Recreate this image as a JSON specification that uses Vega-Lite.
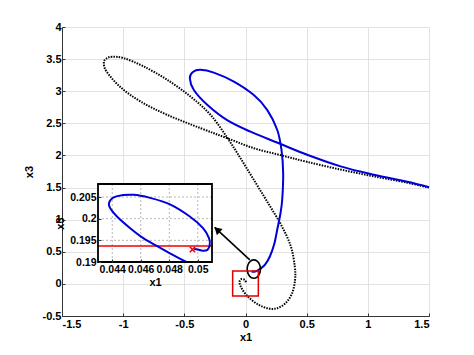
{
  "$schema": "https://vega.github.io/schema/vega-lite/v6.json",
  "width": 367,
  "height": 289,
  "autosize": "none",
  "padding": {"left": 62, "top": 27, "right": 45, "bottom": 39},
  "background": "white",
  "config": {
    "font": "Liberation Sans",
    "view": {"stroke": null},
    "axis": {
      "labelFont": "Liberation Sans", "labelFontWeight": "bold", "labelFontSize": 11, "labelColor": "#000",
      "titleFont": "Liberation Sans", "titleFontWeight": "bold", "titleFontSize": 11, "titleColor": "#000",
      "domainColor": "#333", "tickColor": "#333", "gridColor": "#e2e2e2", "gridOpacity": 1
    }
  },
  "datasets": {
    "blue": [
      {"i": 0, "x": 1.5, "y": 1.506}, {"i": 1, "x": 1.322, "y": 1.59}, {"i": 2, "x": 1.049, "y": 1.7},
      {"i": 3, "x": 0.777, "y": 1.83}, {"i": 4, "x": 0.504, "y": 2.01}, {"i": 5, "x": 0.272, "y": 2.19},
      {"i": 6, "x": 0.041, "y": 2.37}, {"i": 7, "x": -0.15, "y": 2.55}, {"i": 8, "x": -0.313, "y": 2.79},
      {"i": 9, "x": -0.422, "y": 3.02}, {"i": 10, "x": -0.455, "y": 3.2}, {"i": 11, "x": -0.43, "y": 3.3},
      {"i": 12, "x": -0.368, "y": 3.333}, {"i": 13, "x": -0.259, "y": 3.29}, {"i": 14, "x": -0.095, "y": 3.15},
      {"i": 15, "x": 0.068, "y": 2.94}, {"i": 16, "x": 0.177, "y": 2.71}, {"i": 17, "x": 0.259, "y": 2.4},
      {"i": 18, "x": 0.294, "y": 2.09}, {"i": 19, "x": 0.308, "y": 1.72}, {"i": 20, "x": 0.3, "y": 1.31},
      {"i": 21, "x": 0.286, "y": 1.1}, {"i": 22, "x": 0.26, "y": 0.85}, {"i": 23, "x": 0.235, "y": 0.62},
      {"i": 24, "x": 0.2, "y": 0.43}, {"i": 25, "x": 0.16, "y": 0.3}, {"i": 26, "x": 0.12, "y": 0.235},
      {"i": 27, "x": 0.09, "y": 0.2}, {"i": 28, "x": 0.065, "y": 0.19}, {"i": 29, "x": 0.05, "y": 0.193}
    ],
    "black": [
      {"i": 0, "x": 1.5, "y": 1.5}, {"i": 1, "x": 1.322, "y": 1.575}, {"i": 2, "x": 1.049, "y": 1.675},
      {"i": 3, "x": 0.777, "y": 1.78}, {"i": 4, "x": 0.504, "y": 1.9}, {"i": 5, "x": 0.286, "y": 2.005},
      {"i": 6, "x": 0.068, "y": 2.113}, {"i": 7, "x": -0.15, "y": 2.269}, {"i": 8, "x": -0.368, "y": 2.425},
      {"i": 9, "x": -0.64, "y": 2.632}, {"i": 10, "x": -0.858, "y": 2.84}, {"i": 11, "x": -1.022, "y": 3.063},
      {"i": 12, "x": -1.136, "y": 3.307}, {"i": 13, "x": -1.158, "y": 3.448}, {"i": 14, "x": -1.136, "y": 3.51},
      {"i": 15, "x": -1.09, "y": 3.536}, {"i": 16, "x": -0.995, "y": 3.515}, {"i": 17, "x": -0.831, "y": 3.385},
      {"i": 18, "x": -0.64, "y": 3.178}, {"i": 19, "x": -0.45, "y": 2.918}, {"i": 20, "x": -0.286, "y": 2.632},
      {"i": 21, "x": -0.15, "y": 2.279}, {"i": 22, "x": -0.041, "y": 1.957}, {"i": 23, "x": 0.068, "y": 1.62},
      {"i": 24, "x": 0.177, "y": 1.282}, {"i": 25, "x": 0.286, "y": 0.935}, {"i": 26, "x": 0.368, "y": 0.6},
      {"i": 27, "x": 0.403, "y": 0.27}, {"i": 28, "x": 0.405, "y": 0.062}, {"i": 29, "x": 0.381, "y": -0.145},
      {"i": 30, "x": 0.327, "y": -0.301}, {"i": 31, "x": 0.259, "y": -0.379}, {"i": 32, "x": 0.191, "y": -0.384},
      {"i": 33, "x": 0.109, "y": -0.327}, {"i": 34, "x": 0.027, "y": -0.213}, {"i": 35, "x": -0.027, "y": -0.083},
      {"i": 36, "x": -0.049, "y": 0.021}, {"i": 37, "x": -0.035, "y": 0.073}, {"i": 38, "x": -0.005, "y": 0.062},
      {"i": 39, "x": 0.005, "y": 0.01}
    ],
    "ellipse": [
      {"i": 0, "x": 0.122, "y": 0.231}, {"i": 1, "x": 0.1148, "y": 0.3025}, {"i": 2, "x": 0.095, "y": 0.3548},
      {"i": 3, "x": 0.068, "y": 0.374}, {"i": 4, "x": 0.041, "y": 0.3548}, {"i": 5, "x": 0.0212, "y": 0.3025},
      {"i": 6, "x": 0.014, "y": 0.231}, {"i": 7, "x": 0.0212, "y": 0.1595}, {"i": 8, "x": 0.041, "y": 0.1072},
      {"i": 9, "x": 0.068, "y": 0.088}, {"i": 10, "x": 0.095, "y": 0.1072}, {"i": 11, "x": 0.1148, "y": 0.1595}
    ],
    "box": [{"x": -0.105, "x2": 0.105, "y": -0.19, "y2": 0.2}],
    "arrow": [{"x": 0.035, "y": 0.374, "x2": -0.252, "y2": 0.88}],
    "head": [{"x": -0.232, "y": 0.845}],
    "inframe": [{"ix": 0.043, "ix2": 0.051, "iy": 0.19, "iy2": 0.208}],
    "igrid": [
      {"ix": 0.044, "ix2": 0.044, "iy": 0.19, "iy2": 0.208},
      {"ix": 0.046, "ix2": 0.046, "iy": 0.19, "iy2": 0.208},
      {"ix": 0.048, "ix2": 0.048, "iy": 0.19, "iy2": 0.208},
      {"ix": 0.05, "ix2": 0.05, "iy": 0.19, "iy2": 0.208},
      {"ix": 0.043, "ix2": 0.051, "iy": 0.195, "iy2": 0.195},
      {"ix": 0.043, "ix2": 0.051, "iy": 0.2, "iy2": 0.2},
      {"ix": 0.043, "ix2": 0.051, "iy": 0.205, "iy2": 0.205}
    ],
    "iline": [{"ix": 0.043, "ix2": 0.051, "iy": 0.1937, "iy2": 0.1937}],
    "iblue": [
      {"i": 0, "ix": 0.0492, "iy": 0.19}, {"i": 1, "ix": 0.04805, "iy": 0.192}, {"i": 2, "ix": 0.04712, "iy": 0.1937},
      {"i": 3, "ix": 0.04618, "iy": 0.1955}, {"i": 4, "ix": 0.04526, "iy": 0.1978}, {"i": 5, "ix": 0.04433, "iy": 0.2005},
      {"i": 6, "ix": 0.04381, "iy": 0.2027}, {"i": 7, "ix": 0.04385, "iy": 0.2042}, {"i": 8, "ix": 0.04435, "iy": 0.2052},
      {"i": 9, "ix": 0.04549, "iy": 0.2055}, {"i": 10, "ix": 0.04665, "iy": 0.2048}, {"i": 11, "ix": 0.04805, "iy": 0.2033},
      {"i": 12, "ix": 0.04944, "iy": 0.2005}, {"i": 13, "ix": 0.05037, "iy": 0.1978}, {"i": 14, "ix": 0.05079, "iy": 0.1955},
      {"i": 15, "ix": 0.05084, "iy": 0.1939}, {"i": 16, "ix": 0.05068, "iy": 0.1928}, {"i": 17, "ix": 0.05035, "iy": 0.1926},
      {"i": 18, "ix": 0.05, "iy": 0.1929}, {"i": 19, "ix": 0.04975, "iy": 0.193}
    ],
    "imark": [{"ix": 0.04963, "iy": 0.1929}]
  },
  "layer": [
    {
      "encoding": {
        "x": {"field": "x", "type": "quantitative",
          "scale": {"domain": [-1.5, 1.5], "nice": false, "zero": false},
          "axis": {"title": "x1", "values": [-1.5, -1, -0.5, 0, 0.5, 1, 1.5], "labelExpr": "''+datum.value",
            "grid": true, "tickSize": -3, "labelPadding": 5, "titlePadding": 2}},
        "y": {"field": "y", "type": "quantitative",
          "scale": {"domain": [-0.5, 4], "nice": false, "zero": false},
          "axis": {"title": "x3", "values": [-0.5, 0, 0.5, 1, 1.5, 2, 2.5, 3, 3.5, 4], "labelExpr": "''+datum.value",
            "grid": true, "tickSize": -3, "labelPadding": 4, "titlePadding": 8}}
      },
      "layer": [
        {"data": {"name": "black"}, "mark": {"type": "line", "stroke": "#000", "strokeWidth": 2, "strokeDash": [1.5, 1.2], "interpolate": "cardinal"},
          "encoding": {"order": {"field": "i"}}},
        {"data": {"name": "blue"}, "mark": {"type": "line", "stroke": "#0000d8", "strokeWidth": 2, "interpolate": "cardinal"},
          "encoding": {"order": {"field": "i"}}},
        {"data": {"name": "ellipse"}, "mark": {"type": "line", "stroke": "#000", "strokeWidth": 1.6, "interpolate": "cardinal-closed"},
          "encoding": {"order": {"field": "i"}}},
        {"data": {"name": "box"}, "mark": {"type": "rect", "fill": null, "fillOpacity": 0, "stroke": "#e00000", "strokeWidth": 1.5},
          "encoding": {"x2": {"field": "x2"}, "y2": {"field": "y2"}}},
        {"data": {"name": "arrow"}, "mark": {"type": "rule", "stroke": "#000", "strokeWidth": 1.6},
          "encoding": {"x2": {"field": "x2"}, "y2": {"field": "y2"}}},
        {"data": {"name": "head"}, "mark": {"type": "point", "shape": "triangle-up", "filled": true, "color": "#000", "size": 70, "angle": 313, "opacity": 1},
          "encoding": {}}
      ]
    },
    {
      "encoding": {
        "x": {"field": "ix", "type": "quantitative",
          "scale": {"domain": [0.043, 0.051], "range": [36, 150], "nice": false, "zero": false},
          "axis": {"title": "x1", "orient": "bottom", "offset": -54, "values": [0.044, 0.046, 0.048, 0.05], "labelExpr": "''+datum.value",
            "grid": false, "tickSize": -3, "labelPadding": 5, "titlePadding": 2, "zindex": 1, "domain": false, "labelFontSize": 10.5}},
        "y": {"field": "iy", "type": "quantitative",
          "scale": {"domain": [0.19, 0.208], "range": [235, 157], "nice": false, "zero": false},
          "axis": {"title": "x3", "orient": "left", "offset": -36, "values": [0.19, 0.195, 0.2, 0.205], "labelExpr": "''+datum.value",
            "grid": false, "tickSize": -3, "labelPadding": 5, "titlePadding": 4, "zindex": 1, "domain": false, "labelFontSize": 10.5}}
      },
      "layer": [
        {"data": {"name": "inframe"}, "mark": {"type": "rect", "fill": "white", "stroke": null},
          "encoding": {"x2": {"field": "ix2"}, "y2": {"field": "iy2"}}},
        {"data": {"name": "igrid"}, "mark": {"type": "rule", "stroke": "#b8b8b8", "strokeWidth": 1, "strokeDash": [2, 2]},
          "encoding": {"x2": {"field": "ix2"}, "y2": {"field": "iy2"}}},
        {"data": {"name": "iline"}, "mark": {"type": "rule", "stroke": "#ee0000", "strokeWidth": 1.6},
          "encoding": {"x2": {"field": "ix2"}, "y2": {"field": "iy2"}}},
        {"data": {"name": "iblue"}, "mark": {"type": "line", "stroke": "#0000d8", "strokeWidth": 2, "interpolate": "cardinal"},
          "encoding": {"order": {"field": "i"}}},
        {"data": {"name": "imark"}, "mark": {"type": "point", "shape": "M-1,-1L1,1M-1,1L1,-1", "filled": false, "stroke": "#ee0000", "strokeWidth": 1.5, "size": 30, "opacity": 1},
          "encoding": {}},
        {"data": {"name": "inframe"}, "mark": {"type": "rect", "fill": null, "fillOpacity": 0, "stroke": "#000", "strokeWidth": 1.8},
          "encoding": {"x2": {"field": "ix2"}, "y2": {"field": "iy2"}}}
      ]
    }
  ],
  "resolve": {"scale": {"x": "independent", "y": "independent"}}
}
